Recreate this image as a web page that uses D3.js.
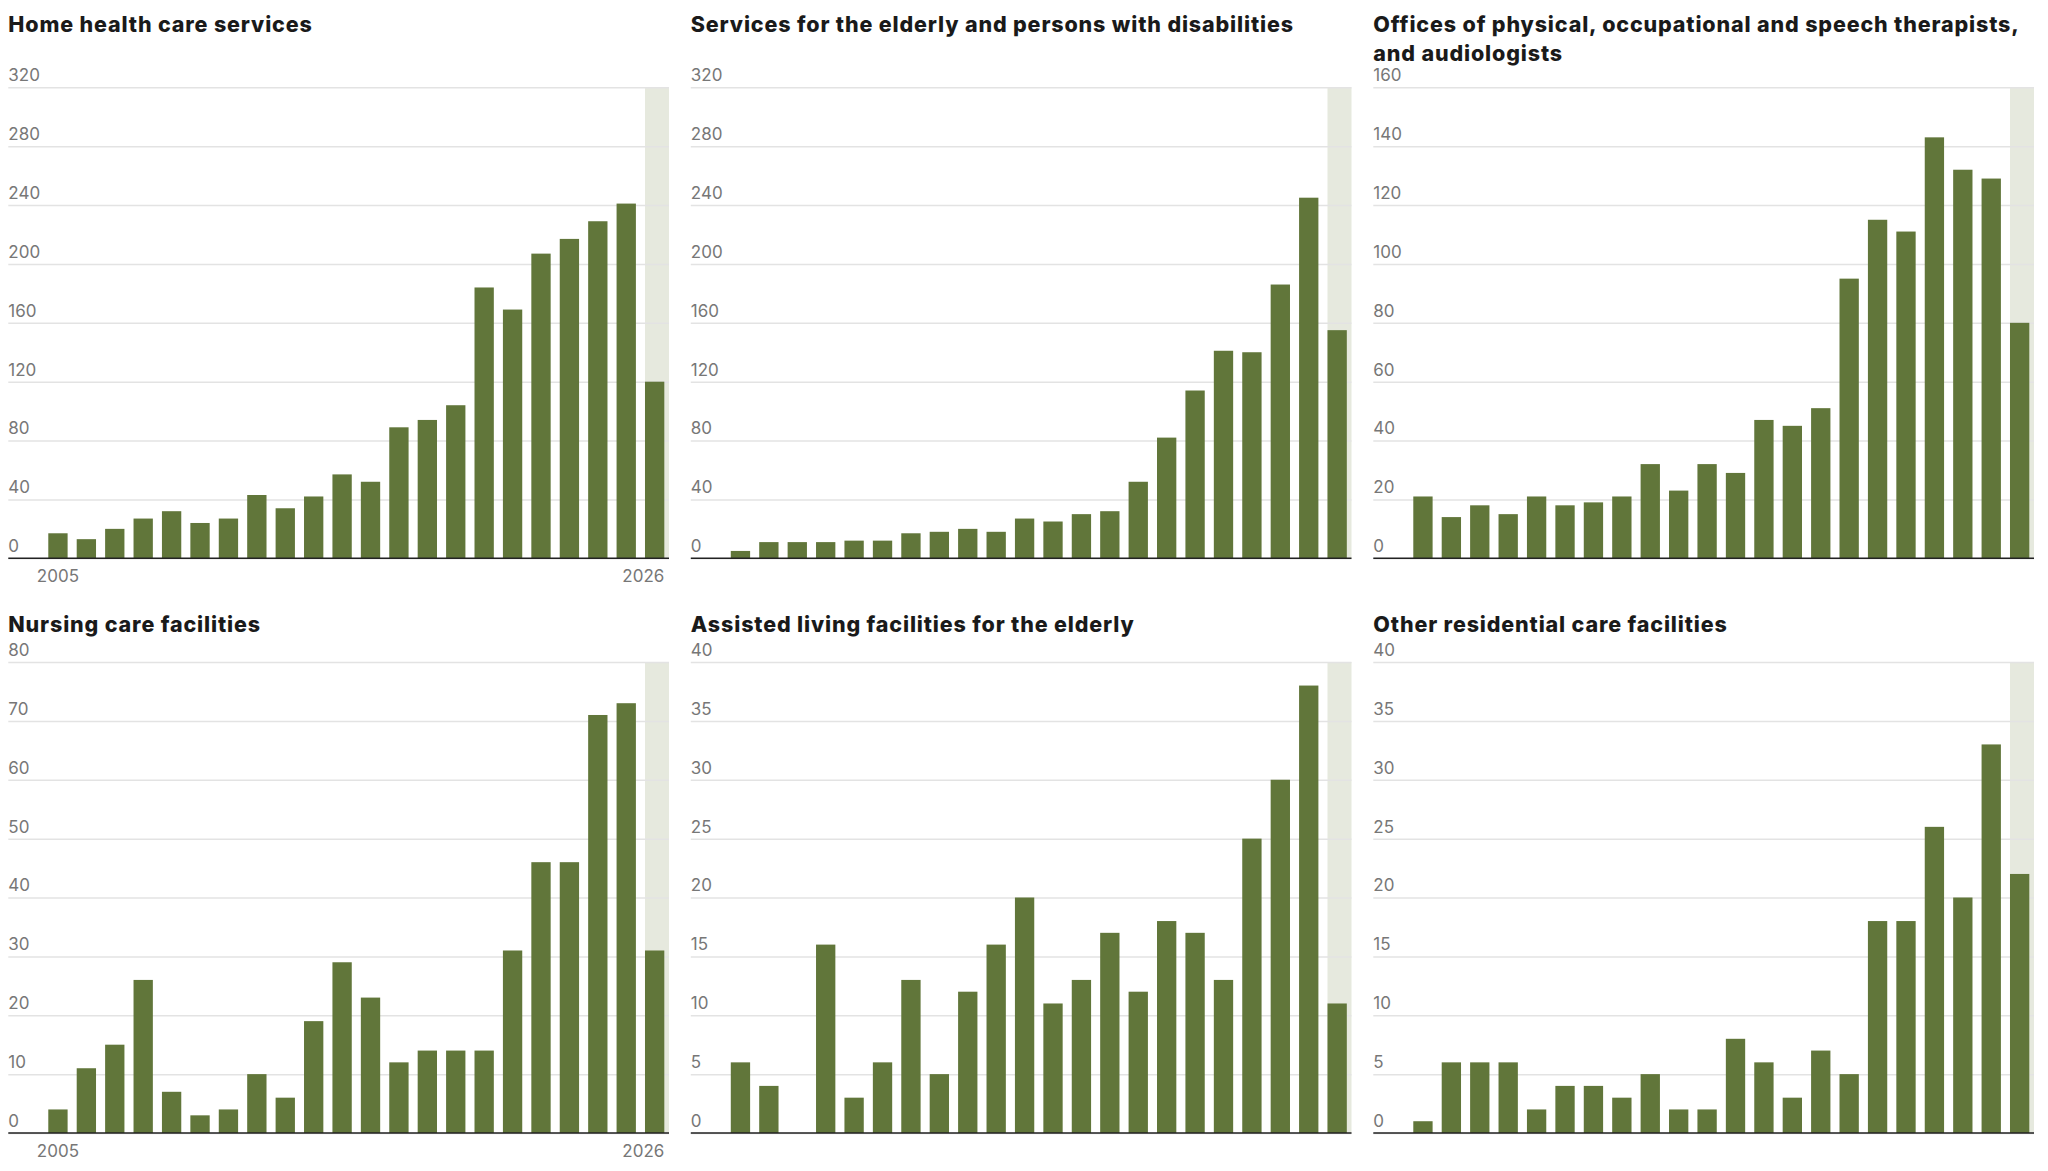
<!DOCTYPE html>
<html>
<head>
<meta charset="utf-8">
<script src="https://cdn.jsdelivr.net/npm/d3@7"></script>
<style>
  body { margin: 0; background: #fff; }
  svg { display: block; }
</style>
</head>
<body>
<div id="chart"></div>
<script>
// years on the x axis, last one (2026) is the partial year with the shaded band
const years = [2005, 2006, 2007, 2008, 2009, 2010, 2011, 2012, 2013, 2014, 2015,
  2016, 2017, 2018, 2019, 2020, 2021, 2022, 2023, 2024, 2025, 2026];

const titles = [
  "Home health care services",
  "Services for the elderly and persons with disabilities",
  "Offices of physical, occupational and speech therapists, and audiologists",
  "Nursing care facilities",
  "Assisted living facilities for the elderly",
  "Other residential care facilities"
];

const homeHealth = [17, 13, 20, 27, 32, 24, 27, 43, 34, 42, 57, 52, 89, 94, 104, 184, 169, 207, 217, 229, 241, 120];
const elderlyServices = [5, 11, 11, 11, 12, 12, 17, 18, 20, 18, 27, 25, 30, 32, 52, 82, 114, 141, 140, 186, 245, 155];
const therapists = [21, 14, 18, 15, 21, 18, 19, 21, 32, 23, 32, 29, 47, 45, 51, 95, 115, 111, 143, 132, 129, 80];
const nursing = [4, 11, 15, 26, 7, 3, 4, 10, 6, 19, 29, 23, 12, 14, 14, 14, 31, 46, 46, 71, 73, 31];
const assistedLiving = [6, 4, 0, 16, 3, 6, 13, 5, 12, 16, 20, 11, 13, 17, 12, 18, 17, 13, 25, 30, 38, 11];
const otherResidential = [1, 6, 6, 6, 2, 4, 4, 3, 5, 2, 2, 8, 6, 3, 7, 5, 18, 18, 26, 20, 33, 22];

const ticks320 = [0, 40, 80, 120, 160, 200, 240, 280, 320];
const ticks160 = [0, 20, 40, 60, 80, 100, 120, 140, 160];
const ticks80 = [0, 10, 20, 30, 40, 50, 60, 70, 80];
const ticks40 = [0, 5, 10, 15, 20, 25, 30, 35, 40];

const panels = [
  { title: titles[0], values: homeHealth, ticks: ticks320 },
  { title: titles[1], values: elderlyServices, ticks: ticks320 },
  { title: titles[2], values: therapists, ticks: ticks160 },
  { title: titles[3], values: nursing, ticks: ticks80 },
  { title: titles[4], values: assistedLiving, ticks: ticks40 },
  { title: titles[5], values: otherResidential, ticks: ticks40 }
];

const width = 2048, height = 1171;
const left0 = 8.3, colStep = 682.5, panelW = 660.7;
const rowTops = [87.3, 662], plotH = 471;
const titleBase = [32, 631.5];
const barOffset = 35.3;

const barColor = "#61763a",
  bandColor = "#e6e9de",
  gridColor = "#e3e3e3",
  labelColor = "#777",
  font = "Inter, 'Noto Sans', sans-serif";

const svg = d3.select("#chart")
  .append("svg")
  .attr("width", width)
  .attr("height", height);

function wrapTitle(textSel, maxW) {
  const words = textSel.text().split(" ");
  textSel.text(null);
  let line = [];
  let tspan = textSel.append("tspan").attr("x", 0).attr("dy", 0);
  words.forEach((w) => {
    line.push(w);
    tspan.text(line.join(" "));
    if (tspan.node().getComputedTextLength() > maxW && line.length > 1) {
      line.pop();
      tspan.text(line.join(" "));
      line = [w];
      tspan = textSel.append("tspan").attr("x", 0).attr("dy", 28.5).text(w);
    }
  });
}

panels.forEach((p, i) => {
  const col = i % 3, row = Math.floor(i / 3);
  const g = svg.append("g")
    .attr("transform", `translate(${left0 + col * colStep},${rowTops[row]})`);

  const x = d3.scaleBand()
    .domain(years)
    .range([barOffset, panelW])
    .paddingInner(0.32)
    .paddingOuter(0.165);

  const yMax = d3.max(p.ticks);
  const y = d3.scaleLinear().domain([0, yMax]).range([plotH, 0]);

  // shaded band for the current (partial) year
  const lastYear = years[years.length - 1];
  g.append("rect")
    .attr("x", x(lastYear))
    .attr("y", y(yMax))
    .attr("width", panelW - x(lastYear))
    .attr("height", plotH)
    .attr("fill", bandColor);

  // gridlines + labels sitting on top of each line
  const axis = g.append("g")
    .call(d3.axisRight(y).tickValues(p.ticks).tickSize(panelW).tickFormat(d3.format("d")));
  axis.select(".domain").remove();
  axis.attr("font-family", font).attr("font-size", 17);
  axis.selectAll(".tick line").attr("stroke", gridColor).attr("stroke-width", 1.5);
  axis.selectAll(".tick text")
    .attr("x", 0)
    .attr("dy", -6.6)
    .attr("text-anchor", "start")
    .attr("fill", labelColor);

  g.append("g")
    .selectAll("rect")
    .data(p.values.map((v, j) => ({ year: years[j], value: v })))
    .join("rect")
    .attr("x", (d) => x(d.year))
    .attr("y", (d) => y(d.value))
    .attr("width", x.bandwidth())
    .attr("height", (d) => y(0) - y(d.value))
    .attr("fill", barColor);

  // baseline
  g.append("line")
    .attr("x1", 0)
    .attr("x2", panelW)
    .attr("y1", y(0))
    .attr("y2", y(0))
    .attr("stroke", "#222")
    .attr("stroke-width", 1.5);

  // first and last year only in the left column
  if (col === 0) {
    g.append("text")
      .attr("x", x(years[0]) + x.bandwidth() / 2)
      .attr("y", plotH + 24.2)
      .attr("text-anchor", "middle")
      .attr("font-family", font)
      .attr("font-size", 17)
      .attr("fill", labelColor)
      .text(years[0]);
    g.append("text")
      .attr("x", x(lastYear) + x.bandwidth())
      .attr("y", plotH + 24.2)
      .attr("text-anchor", "end")
      .attr("font-family", font)
      .attr("font-size", 17)
      .attr("fill", labelColor)
      .text(lastYear);
  }

  const t = g.append("text")
    .attr("x", 0)
    .attr("y", titleBase[row] - rowTops[row])
    .attr("font-family", font)
    .attr("font-weight", 800)
    .attr("font-size", 21.5)
    .attr("letter-spacing", 0.85)
    .attr("fill", "#1a1a1a")
    .text(p.title);
  wrapTitle(t, panelW);
});
</script>
</body>
</html>
